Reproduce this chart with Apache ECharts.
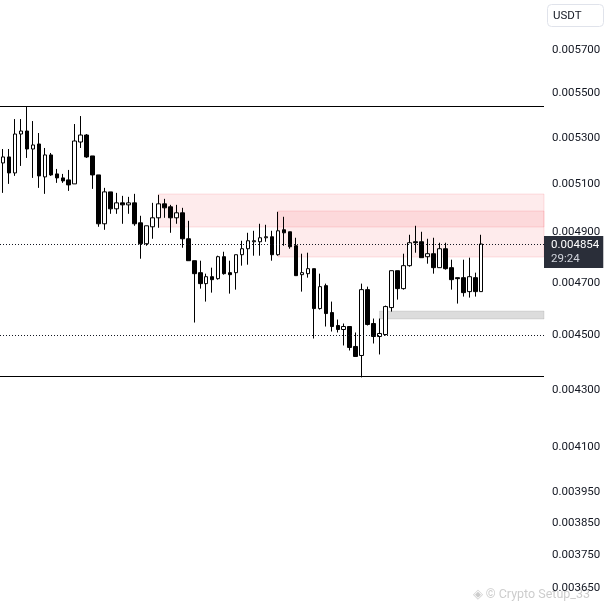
<!DOCTYPE html>
<html><head><meta charset="utf-8">
<script src="https://cdn.jsdelivr.net/npm/echarts@6/dist/echarts.min.js"></script>
<style>html,body{margin:0;padding:0;background:#fff}#c{width:607px;height:607px}</style>
</head><body><div id="c"></div>
<script>
// ---- data ----
const categories = Array.from({length: 91}, (_, i) => String(i + 1));
const opens = [
0.0051914,0.0052173,0.0051486,0.0053174,0.0053306,0.0052518,0.0052736,0.0051317,0.0052259,0.0051444,
0.0051274,0.0051189,0.0051020,0.0052823,0.0053130,0.0052216,0.0051401,0.0049360,0.0050683,0.0049976,
0.0050224,0.0050141,0.0050224,0.0049400,0.0048550,0.0049237,0.0049605,0.0050183,0.0050059,0.0049605,
0.0049811,0.0048751,0.0047872,0.0047399,0.0046970,0.0047242,0.0047164,0.0048031,0.0047399,0.0047399,
0.0048110,0.0048349,0.0048630,0.0048630,0.0048791,0.0048832,0.0048110,0.0049115,0.0049034,0.0048469,
0.0047321,0.0047360,0.0047556,0.0046009,0.0046892,0.0045856,0.0045367,0.0045217,0.0045329,0.0044585,
0.0044254,0.0046737,0.0045442,0.0044956,0.0045030,0.0046047,0.0047477,0.0046776,0.0047675,0.0048630,
0.0048630,0.0048031,0.0048150,0.0047596,0.0048349,0.0047596,0.0047203,0.0047203,0.0046660,0.0047203,
0.0046660];
const closes = [
0.0052173,0.0051486,0.0053174,0.0053306,0.0052518,0.0052693,0.0051359,0.0052259,0.0051401,0.0051274,
0.0051147,0.0050978,0.0052867,0.0053130,0.0052173,0.0051401,0.0049360,0.0050683,0.0049976,0.0050224,
0.0050141,0.0050224,0.0049360,0.0048550,0.0049278,0.0049605,0.0050183,0.0050017,0.0049605,0.0049811,
0.0048751,0.0047872,0.0047360,0.0046970,0.0047242,0.0047125,0.0048031,0.0047360,0.0047321,0.0048110,
0.0048349,0.0048670,0.0048670,0.0048791,0.0048832,0.0048110,0.0049074,0.0048993,0.0048429,0.0047282,
0.0047399,0.0047556,0.0046009,0.0046853,0.0045819,0.0045329,0.0045217,0.0045329,0.0044548,0.0044217,
0.0046737,0.0045404,0.0044956,0.0045068,0.0046085,0.0047477,0.0046776,0.0047675,0.0048590,0.0048590,
0.0047991,0.0048150,0.0047596,0.0048349,0.0047556,0.0047125,0.0047164,0.0046621,0.0047242,0.0046660,
0.0048540];
const lows = [
0.0050641,0.0051020,0.0051359,0.0051786,0.0052130,0.0051274,0.0050852,0.0050600,0.0051359,0.0051063,
0.0051063,0.0050725,0.0051020,0.0052562,0.0052130,0.0050810,0.0049237,0.0049115,0.0049770,0.0049770,
0.0049360,0.0049770,0.0049278,0.0047951,0.0048469,0.0048751,0.0049196,0.0049605,0.0048993,0.0049360,
0.0048389,0.0047872,0.0045479,0.0046776,0.0046276,0.0046621,0.0047125,0.0047321,0.0046583,0.0046737,
0.0047675,0.0047714,0.0048071,0.0048071,0.0048630,0.0047872,0.0048071,0.0048469,0.0048349,0.0047282,
0.0046660,0.0047203,0.0044881,0.0045970,0.0045329,0.0045142,0.0045105,0.0044622,0.0044437,0.0044217,
0.0043457,0.0045367,0.0044696,0.0044291,0.0044993,0.0045894,0.0046352,0.0046737,0.0047635,0.0048190,
0.0047991,0.0047754,0.0047360,0.0047596,0.0047517,0.0046737,0.0046200,0.0046468,0.0046429,0.0046468,
0.0046660];
const highs = [
0.0052518,0.0052518,0.0053838,0.0053838,0.0054376,0.0053749,0.0053218,0.0052562,0.0052345,0.0051657,
0.0051444,0.0051614,0.0053616,0.0053972,0.0053174,0.0052216,0.0051401,0.0050852,0.0050683,0.0050641,
0.0050516,0.0050474,0.0050600,0.0049688,0.0049278,0.0050224,0.0050558,0.0050391,0.0050141,0.0050141,
0.0050017,0.0049482,0.0047872,0.0047872,0.0047360,0.0047596,0.0048071,0.0048229,0.0047872,0.0048110,
0.0048670,0.0048993,0.0049074,0.0049360,0.0049319,0.0049074,0.0049852,0.0049647,0.0049034,0.0048791,
0.0048150,0.0048190,0.0047556,0.0047360,0.0046970,0.0046276,0.0045592,0.0045442,0.0045329,0.0045105,
0.0046970,0.0046853,0.0045630,0.0045630,0.0046123,0.0047477,0.0047477,0.0048150,0.0048912,0.0049278,
0.0049034,0.0048751,0.0048791,0.0048590,0.0048590,0.0047912,0.0047203,0.0047912,0.0047991,0.0047399,
0.0048912];
const priceTicks = [0.00365,0.00375,0.00385,0.00395,0.0041,0.0043,0.0045,0.0047,0.0049,0.0051,0.0053,0.0055,0.0057];
const axisMin = 0.0035923, axisMax = 0.0059424;
const resistanceLine = 0.0054401;
const supportLine = 0.0043483;
const levelLine = 0.0045;
const lastPrice = 0.004854;
const countdown = '29:24';
const currency = 'USDT';
const watermark = '◈ © Crypto Setup_33';
const zoneA = {start: 26, top: 0.0050594, bottom: 0.0049229};
const zoneB = {start: 46, top: 0.0049886, bottom: 0.0048019};
const zoneGray = {start: 63, top: 0.0045916, bottom: 0.0045613};

// ---- chart ----
const FONT = 'Roboto, "Liberation Sans", sans-serif';
const GRID_LEFT = -2, GRID_RIGHT = 63;
const chart = echarts.init(document.getElementById('c'), null, {renderer: 'canvas'});
const candles = opens.map((o, i) => [o, closes[i], lows[i], highs[i]]);
const pink = {color: 'rgba(242,54,69,0.10)', borderColor: 'rgba(242,54,69,0.14)', borderWidth: 1};

chart.setOption({
  animation: false,
  backgroundColor: '#ffffff',
  title: {
    text: currency, left: 547, top: 4, padding: [6, 22, 5, 6],
    borderColor: '#e0e3eb', borderWidth: 1, borderRadius: 4,
    textStyle: {fontSize: 11.5, fontWeight: 'normal', color: '#131722', fontFamily: FONT}
  },
  grid: {left: GRID_LEFT, right: GRID_RIGHT, top: 0, bottom: 0, containLabel: false},
  xAxis: {
    type: 'category', data: categories, boundaryGap: true,
    axisLine: {show: false}, axisTick: {show: false}, axisLabel: {show: false}, splitLine: {show: false}
  },
  yAxis: {
    type: 'log', logBase: 10, position: 'right', min: axisMin, max: axisMax,
    axisLine: {show: false}, axisTick: {show: false}, splitLine: {show: false}, minorTick: {show: false},
    axisLabel: {
      customValues: priceTicks, margin: 8, color: '#131722', fontSize: 11.5, fontFamily: FONT,
      formatter: v => Number(v).toFixed(6)
    }
  },
  series: [{
    type: 'candlestick',
    data: candles,
    barWidth: 4,
    itemStyle: {color: '#ffffff', color0: '#000000', borderColor: '#000000', borderColor0: '#000000', borderWidth: 1},
    markArea: {
      silent: true,
      data: [
        [{xAxis: zoneA.start, yAxis: zoneA.top, itemStyle: pink}, {yAxis: zoneA.bottom}],
        [{xAxis: zoneB.start, yAxis: zoneB.top, itemStyle: pink}, {yAxis: zoneB.bottom}],
        [{xAxis: zoneGray.start, yAxis: zoneGray.top, itemStyle: {color: 'rgba(128,128,128,0.28)', borderColor: 'rgba(128,128,128,0.2)', borderWidth: 1}}, {yAxis: zoneGray.bottom}]
      ]
    },
    markLine: {
      silent: true, symbol: 'none', precision: 10, label: {show: false},
      data: [
        {yAxis: resistanceLine, lineStyle: {type: 'solid', color: '#000000', width: 1}},
        {yAxis: supportLine, lineStyle: {type: 'solid', color: '#000000', width: 1}},
        {yAxis: lastPrice, lineStyle: {type: [1, 2], color: '#131722', width: 1}},
        {yAxis: levelLine, lineStyle: {type: [1, 2], color: '#131722', width: 1}}
      ]
    }
  }]
});

const py = chart.convertToPixel({yAxisIndex: 0}, lastPrice);
const boxX = chart.getWidth() - GRID_RIGHT;
chart.setOption({
  graphic: [
    {
      type: 'text', right: 17, bottom: 6, z: -10, silent: true,
      style: {text: watermark, fill: 'rgba(110,110,110,0.35)', font: '12.5px ' + FONT}
    },
    {
      type: 'text', x: boxX, y: py - 8, z: 100, silent: true,
      style: {
        text: '{a|' + lastPrice.toFixed(6) + '}\n{b|' + countdown + '}',
        backgroundColor: '#2a2e39', padding: [2, 4, 2, 7],
        rich: {
          a: {fill: '#ffffff', fontSize: 11.5, fontFamily: FONT, lineHeight: 14},
          b: {fill: '#d1d4dc', fontSize: 11.5, fontFamily: FONT, lineHeight: 14}
        }
      }
    }
  ]
});
</script>
</body></html>
